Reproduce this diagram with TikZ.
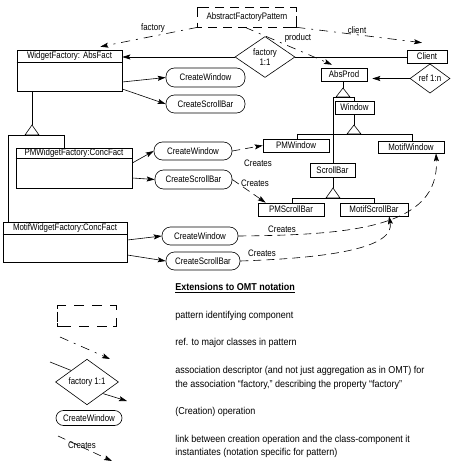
\documentclass[tikz,border=0pt]{standalone}
\usepackage{fontspec}
\setmainfont{Liberation Sans}
\newfontfamily\diagfont{Liberation Sans}[FakeStretch=0.84]
\newfontfamily\legfont{Liberation Sans}[FakeStretch=0.9]
\usetikzlibrary{arrows.meta,shapes.geometric}
\begin{document}
\begin{tikzpicture}[x=1pt,y=-1pt,line width=0.6pt,
  every node/.style={font=\diagfont\fontsize{9.4}{10.5}\selectfont,inner sep=0pt},
  cls/.style={draw,rectangle},
  op/.style={draw,rectangle,rounded corners=8.5pt},
  assoc/.style={draw,diamond,align=center},
  pat/.style={draw,dash pattern=on 9pt off 6pt},
  corner/.style={draw},
  tip/.style={-{Stealth[length=8pt,width=5pt,inset=1.5pt]}},
  refline/.style={tip,dash pattern=on 9pt off 6pt on 2pt off 6pt},
  creates/.style={tip,dash pattern=on 8pt off 5pt},
  gen/.style={draw,fill=white},
  legend/.style={font=\legfont\fontsize{10}{12}\selectfont,anchor=west,align=left}]
\useasboundingbox (0,0) rectangle (474,468);

% pattern component
\node[minimum width=98pt,minimum height=19pt] (afp) at (247,17.5) {AbstractFactoryPattern};
\draw[pat] (afp.north west) rectangle (afp.south east);
\draw[corner] ([yshift=-4pt]afp.north west) -- (afp.north west) -- ([xshift=4pt]afp.north west);
\draw[corner] ([yshift=-4pt]afp.north east) -- (afp.north east) -- ([xshift=-4pt]afp.north east);
\draw[corner] ([yshift=4pt]afp.south west) -- (afp.south west) -- ([xshift=4pt]afp.south west);
\draw[corner] ([yshift=4pt]afp.south east) -- (afp.south east) -- ([xshift=-4pt]afp.south east);

% factory classes
\node[cls,minimum width=105pt,minimum height=41pt] (wf) at (69.5,70.5) {};
\node (wft) at (69.5,56) {WidgetFactory: AbsFact};
\draw (wf.west |- 0,62) -- (wf.east |- 0,62);

\node[cls,minimum width=116pt,minimum height=40pt] (pm) at (74,168) {};
\node (pmt) at (74,153) {PMWidgetFactory:ConcFact};
\draw (pm.west |- 0,158.5) -- (pm.east |- 0,158.5);

\node[cls,minimum width=124pt,minimum height=40pt] (mw) at (65,242) {};
\node (mwt) at (65,228) {MotifWidgetFactory:ConcFact};
\draw (mw.west |- 0,234) -- (mw.east |- 0,234);

% operations
\node[op,minimum width=79pt,minimum height=19pt] (cw1) at (205.5,77.5) {CreateWindow};
\node[op,minimum width=79pt,minimum height=18pt] (cs1) at (205.5,104) {CreateScrollBar};
\node[op,minimum width=78pt,minimum height=18pt] (cw2) at (193,151) {CreateWindow};
\node[op,minimum width=77pt,minimum height=19pt] (cs2) at (193.5,179.5) {CreateScrollBar};
\node[op,minimum width=76pt,minimum height=18pt] (cw3) at (200,236) {CreateWindow};
\node[op,minimum width=74pt,minimum height=18pt] (cs3) at (203,261) {CreateScrollBar};

\draw[tip] (wf.east |- 0,82) -- (cw1.west);
\draw[tip] (wf.east |- 0,89) -- (cs1.west);
\draw[tip] (pm.east |- 0,163) -- (cw2.west);
\draw[tip] (pm.east |- 0,178) -- (cs2.west);
\draw[tip] (mw.east |- 0,240) -- (cw3.west);
\draw[tip] (mw.east |- 0,255) -- (cs3.west);

% factory inheritance
\draw (32,0 |- wf.south) -- (32,125);
\draw[gen] (32,125) -- (39,135) -- (25,135) -- cycle;
\draw (8,135) -- (64,135);
\draw (64,135) -- (64,0 |- pm.north);
\draw (8,135) -- (8,0 |- mw.north);

% associations
\node[assoc,minimum width=60pt,minimum height=30pt] (fd) at (265,57) {factory\\1:1};
\node[cls,minimum width=40pt,minimum height=13pt] (client) at (427,56.5) {Client};
\node[assoc,minimum width=40pt,minimum height=19pt] (refd) at (430,78.5) {ref 1:n};
\draw[tip] (fd.west) -- (wf.east |- fd.west);
\draw (fd.east) -- (client.west |- fd.east);
\draw (client.south) -- (refd.north);

% products
\node[cls,minimum width=46pt,minimum height=13pt] (ap) at (344,74.5) {AbsProd};
\node[cls,minimum width=39pt,minimum height=13pt] (win) at (354.5,107.5) {Window};
\node[cls,minimum width=66pt,minimum height=13pt] (pmw) at (296,145.5) {PMWindow};
\node[cls,minimum width=66pt,minimum height=12pt] (mow) at (411,147) {MotifWindow};
\node[cls,minimum width=45pt,minimum height=14pt] (sb) at (332.5,170) {ScrollBar};
\node[cls,minimum width=66pt,minimum height=13pt] (pmsb) at (291,209.5) {PMScrollBar};
\node[cls,minimum width=68pt,minimum height=13pt] (mosb) at (374,209.5) {MotifScrollBar};

\draw[tip,shorten >=5pt] (refd.west) -- (ap.east |- refd.west);

\draw (343,0 |- ap.south) -- (343,88);
\draw[gen] (343,88) -- (350,97) -- (336,97) -- cycle;
\draw (333,97) -- (354,97);
\draw (333,97) -- (333,0 |- sb.north);
\draw (354,97) -- (354,0 |- win.north);
\draw (354,0 |- win.south) -- (354,125);
\draw[gen] (354,125) -- (361,134) -- (347,134) -- cycle;
\draw (297,134) -- (412,134);
\draw (297,134) -- (297,0 |- pmw.north);
\draw (412,134) -- (412,0 |- mow.north);
\draw (333,0 |- sb.south) -- (333,188);
\draw[gen] (333,188) -- (340,198) -- (326,198) -- cycle;
\draw (292,198) -- (374,198);
\draw (292,198) -- (292,0 |- pmsb.north);
\draw (374,198) -- (374,0 |- mosb.north);

% references from pattern
\draw[refline] (afp.south west) -- ([xshift=-22pt,yshift=3pt]wf.north east);
\node (lfac) at (153,28) {factory};
\draw[refline] ([xshift=-2pt]afp.south) -- ([xshift=-12pt,yshift=3pt]ap.north);
\node (lprod) at (298,38) {product};
\draw[refline] (afp.south east) -- ([xshift=-5pt,yshift=7pt]client.north);
\node (lcli) at (357,30) {client};

% creates links
\draw[creates] (cw2.east) -- (pmw.west);
\node (lc1) at (258,163) {Creates};
\draw[creates] (cs2.east) -- ([xshift=8pt]pmsb.north west);
\node (lc2) at (255,183) {Creates};
\draw[creates] (cw3.east) .. controls (350,235) and (440,228) .. ([xshift=25pt]mow.south);
\node (lc3) at (282,229) {Creates};
\draw[creates] (cs3.east) .. controls (330,258) and (395,248) .. ([xshift=15pt]mosb.south);
\node (lc4) at (262,253) {Creates};

% legend
\node[legend] (lhead) at (175,288) {\underline{\textbf{Extensions to OMT notation}}};

\node[minimum width=58pt,minimum height=20pt] (lbox) at (87,316) {};
\draw[pat,dash pattern=on 10pt off 8pt,dash phase=-6pt] (lbox.north west) rectangle (lbox.south east);
\draw[corner] ([yshift=-3pt]lbox.north west) -- (lbox.north west) -- ([xshift=3pt]lbox.north west);
\draw[corner] ([yshift=-3pt]lbox.north east) -- (lbox.north east) -- ([xshift=-3pt]lbox.north east);
\draw[corner] ([yshift=3pt]lbox.south west) -- (lbox.south west) -- ([xshift=3pt]lbox.south west);
\draw[corner] ([yshift=3pt]lbox.south east) -- (lbox.south east) -- ([xshift=-3pt]lbox.south east);
\node[legend] (t1) at (175,316) {pattern identifying component};

\coordinate (ra) at (60,337);
\coordinate (rb) at (110,359);
\draw[refline] (ra) -- (rb);
\node[legend] (t2) at (175,343) {ref. to major classes in pattern};

\node[assoc,minimum width=63pt,minimum height=31pt] (ld) at (87,382) {factory 1:1};
\coordinate (la) at (50,362);
\coordinate (lb) at (127,401);
\draw (la) -- (ld.north west);
\draw[tip] (ld.south east) -- (lb);
\node[legend] (t3) at (175,371) {association descriptor (and not just aggregation as in OMT) for};
\node[legend] (t3b) at (175,385) {the association “factory,” describing the property “factory”};

\node[op,minimum width=66pt,minimum height=15pt,rounded corners=7.5pt] (lop) at (89,418) {CreateWindow};
\node[legend] (t4) at (175,412) {(Creation) operation};

\coordinate (ca) at (58,436);
\coordinate (cb) at (112,461);
\draw[creates] (ca) -- (cb);
\node (lcr) at (82,445) {Creates};
\node[legend] (t5) at (175,440) {link between creation operation and the class-component it};
\node[legend] (t5b) at (175,453) {instantiates (notation specific for pattern)};
\end{tikzpicture}
\end{document}
